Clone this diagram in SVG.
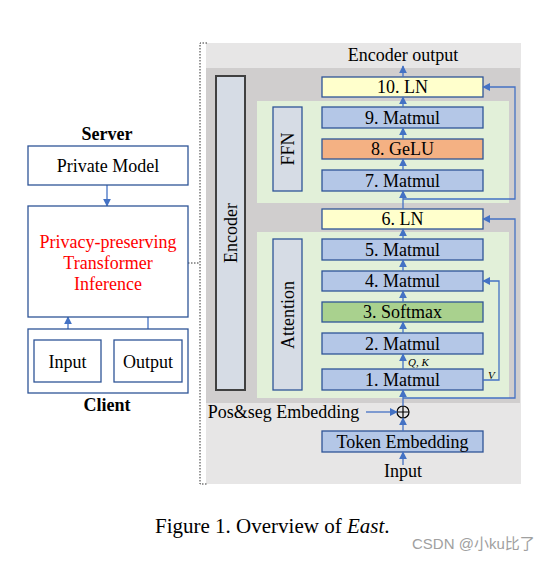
<svg xmlns="http://www.w3.org/2000/svg" width="556" height="561" viewBox="0 0 556 561">
<defs>
<style>
.t{font-family:"Liberation Serif","Times New Roman",serif;font-size:18px;fill:#000;text-anchor:middle}
.b{font-weight:bold}
.r{fill:#ff0000}
.box{fill:#fff;stroke:#2f5597;stroke-width:1.3}
.mm{fill:#b4c7e7;stroke:#2f5597;stroke-width:1.3}
.ln{fill:#ffffcc;stroke:#2f5597;stroke-width:1.3}
.ge{fill:#f4b183;stroke:#2f5597;stroke-width:1.3}
.sm{fill:#a9d18e;stroke:#2f5597;stroke-width:1.3}
.lab{fill:#d6dce5;stroke:#2f5597;stroke-width:1.3}
.c{fill:none;stroke:#4472c4;stroke-width:1.3}
</style>
<marker id="ah" viewBox="0 0 10 10" refX="9" refY="5" markerWidth="6" markerHeight="6" orient="auto">
<path d="M0,0 L10,5 L0,10 z" fill="#4472c4"/>
</marker>
</defs>
<rect width="556" height="561" fill="#fff"/>
<rect x="206" y="43" width="315" height="441" fill="#e7e6e6"/>
<rect x="206" y="68" width="314" height="335" fill="#d0cece"/>
<rect x="257" y="101" width="252" height="102" fill="#e2f0d9"/>
<rect x="257" y="232" width="252" height="166" fill="#e2f0d9"/>
<path d="M207,43 H200 V484 H207 M188,263 H200" fill="none" stroke="#333" stroke-width="1" stroke-dasharray="1.5,1.5"/>
<g id="encoder"><rect x="216" y="76" width="29" height="314" fill="#d6dce5" stroke="#404040" stroke-width="2"/><text class="t" transform="translate(237,233) rotate(-90)">Encoder</text></g>
<g id="ffn"><rect class="lab" x="273" y="107" width="29" height="84"/><text class="t" transform="translate(294,149) rotate(-90)">FFN</text></g>
<g id="attention"><rect class="lab" x="273" y="239" width="29" height="151"/><text class="t" transform="translate(294,315) rotate(-90)">Attention</text></g>
<g id="n10"><rect class="ln" x="322" y="77" width="161" height="20"/><text class="t" x="402.5" y="93">10. LN</text></g>
<g id="n9"><rect class="mm" x="322" y="107" width="161" height="21"/><text class="t" x="402.5" y="124">9. Matmul</text></g>
<g id="n8"><rect class="ge" x="322" y="139" width="161" height="20"/><text class="t" x="402.5" y="155">8. GeLU</text></g>
<g id="n7"><rect class="mm" x="322" y="170" width="161" height="21"/><text class="t" x="402.5" y="187">7. Matmul</text></g>
<g id="n6"><rect class="ln" x="322" y="209" width="161" height="20"/><text class="t" x="402.5" y="225">6. LN</text></g>
<g id="n5"><rect class="mm" x="322" y="239" width="161" height="21"/><text class="t" x="402.5" y="256">5. Matmul</text></g>
<g id="n4"><rect class="mm" x="322" y="271" width="161" height="20"/><text class="t" x="402.5" y="287">4. Matmul</text></g>
<g id="n3"><rect class="sm" x="322" y="302" width="161" height="20"/><text class="t" x="402.5" y="318">3. Softmax</text></g>
<g id="n2"><rect class="mm" x="322" y="333" width="161" height="21"/><text class="t" x="402.5" y="350">2. Matmul</text></g>
<g id="n1"><rect class="mm" x="322" y="369" width="161" height="21"/><text class="t" x="402.5" y="386">1. Matmul</text></g>
<g id="token"><rect class="mm" x="322" y="431" width="161" height="21"/><text class="t" x="402.5" y="448">Token Embedding</text></g>
<g id="add"><circle cx="403" cy="412" r="6" fill="none" stroke="#000" stroke-width="1.2"/><path d="M397,412 H409 M403,406 V418" stroke="#000" stroke-width="1.2"/></g>
<text class="t" x="403" y="61">Encoder output</text>
<text class="t" x="283.5" y="418">Pos&amp;seg Embedding</text>
<text class="t" x="403" y="477">Input</text>
<text x="408" y="366" font-family="Liberation Serif,serif" font-style="italic" font-size="11">Q, K</text>
<text x="488" y="379" font-family="Liberation Serif,serif" font-style="italic" font-size="11">V</text>
<g id="connectors">
<path class="c" d="M403,77 V66" marker-end="url(#ah)"/>
<path class="c" d="M403,107 V97" marker-end="url(#ah)"/>
<path class="c" d="M403,139 V128" marker-end="url(#ah)"/>
<path class="c" d="M403,170 V159" marker-end="url(#ah)"/>
<path class="c" d="M403,209 V191" marker-end="url(#ah)"/>
<path class="c" d="M403,239 V229" marker-end="url(#ah)"/>
<path class="c" d="M403,271 V260" marker-end="url(#ah)"/>
<path class="c" d="M403,302 V291" marker-end="url(#ah)"/>
<path class="c" d="M403,333 V322" marker-end="url(#ah)"/>
<path class="c" d="M403,369 V354" marker-end="url(#ah)"/>
<path class="c" d="M403,406 V390" marker-end="url(#ah)"/>
<path class="c" d="M403,431 V418" marker-end="url(#ah)"/>
<path class="c" d="M403,465 V452" marker-end="url(#ah)"/>
<path class="c" d="M366,412 H397" marker-end="url(#ah)"/>
<path class="c" d="M403,199 H515 V87 H483" marker-end="url(#ah)"/>
<path class="c" d="M403,398 H515 V219 H483" marker-end="url(#ah)"/>
<path class="c" d="M483,380 H499 V281 H483" marker-end="url(#ah)"/>
<path class="c" d="M107,185 V206" marker-end="url(#ah)"/>
<path class="c" d="M68,340 V317" marker-end="url(#ah)"/>
<path class="c" d="M148,317 V340" marker-end="url(#ah)"/>
</g>
<text class="t b" x="107" y="140">Server</text>
<g id="private"><rect class="box" x="28" y="146" width="160" height="39"/><text class="t" x="108" y="172">Private Model</text></g>
<g id="pp"><rect class="box" x="28" y="206" width="160" height="111"/>
<text class="t r" x="108" y="248">Privacy-preserving</text>
<text class="t r" x="108" y="269">Transformer</text>
<text class="t r" x="108" y="290">Inference</text></g>
<g id="client"><rect class="box" x="28" y="329" width="160" height="64"/></g>
<g id="input"><rect class="box" x="34" y="340" width="67" height="42"/><text class="t" x="67.5" y="368">Input</text></g>
<g id="output"><rect class="box" x="114" y="340" width="68" height="42"/><text class="t" x="148" y="368">Output</text></g>
<text class="t b" x="107" y="411">Client</text>
<text x="155" y="533" font-family="Liberation Serif,serif" font-size="21">Figure 1. Overview of <tspan font-style="italic">East</tspan>.</text>
<text x="412" y="549" font-family="Liberation Sans,Noto Sans CJK SC,sans-serif" font-size="15" fill="#a0a0a0">CSDN @小ku比了</text>
</svg>
